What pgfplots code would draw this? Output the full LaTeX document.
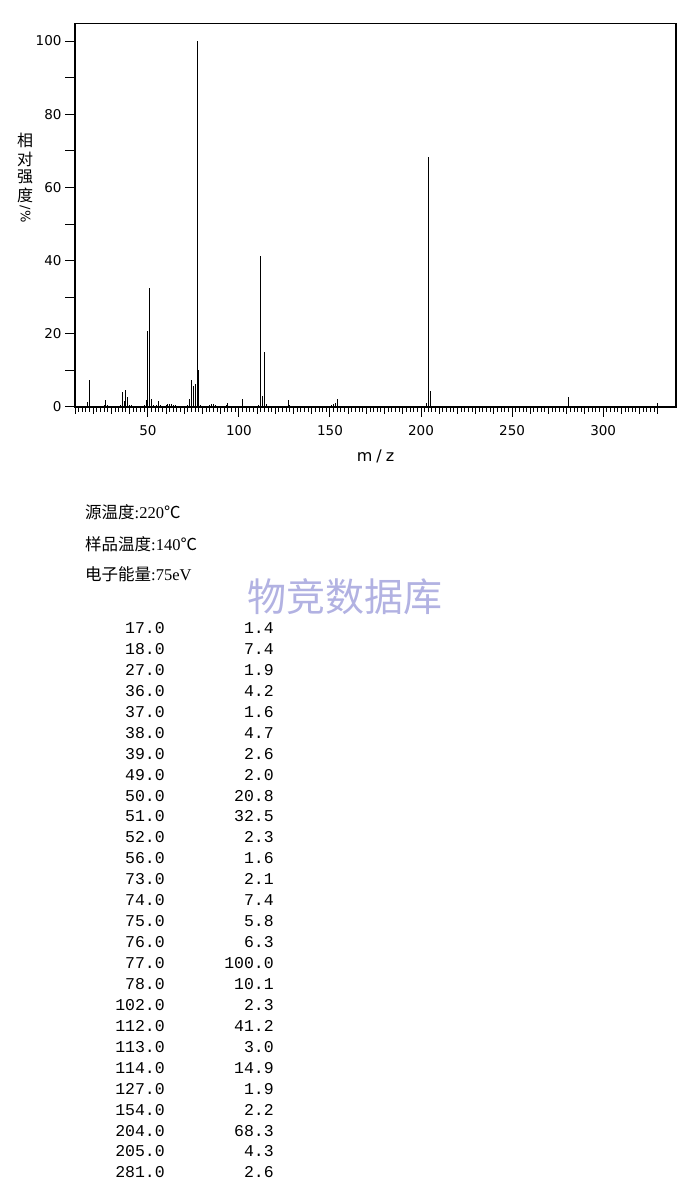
\documentclass[border=0pt]{standalone}
\usepackage{pgfplots}
\pgfplotsset{compat=1.18}
\usepackage{pgfplotstable}
\usepackage{fontspec}
\setmainfont{DejaVu Sans}
\newfontfamily\cjk{Noto Sans CJK SC}
\newfontfamily\mono{Liberation Mono}
\newfontfamily\serif{Liberation Serif}
\definecolor{wm}{RGB}{178,178,226}

\pgfplotstableread{
mz  int
17  1.4
18  7.4
26  0.6
27  1.9
28  0.5
35  0.6
36  4.2
37  1.6
38  4.7
39  2.6
40  0.5
41  0.5
48  0.5
49  2.0
50  20.8
51  32.5
52  2.3
53  0.5
55  0.5
56  1.6
57  0.5
60  0.6
61  0.7
62  0.7
63  0.7
64  0.6
65  0.5
66  0.4
72  0.5
73  2.1
74  7.4
75  5.8
76  6.3
77  100
78  10.1
79  0.5
82  0.4
83  0.4
84  0.5
85  0.7
86  0.7
87  0.6
88  0.4
93  0.5
94  1.0
97  0.4
102 2.3
103 0.4
111 0.6
112 41.2
113 3.0
114 14.9
115 0.8
127 1.9
128 0.5
151 0.5
152 0.7
153 1.0
154 2.2
155 0.3
203 1.0
204 68.3
205 4.3
206 0.3
281 2.6
282 0.4
330 1.0
}\spectrum

\begin{document}
\begin{tikzpicture}[x=1pt,y=1pt]
\path (0,0) rectangle (687,1191);
\begin{axis}[
  at={(75pt,784pt)}, anchor=south west,
  scale only axis, width=601pt, height=383.5pt,
  xmin=10, xmax=340, ymin=0, ymax=104.8,
  xtick={50,100,...,300},
  minor xtick={10,12,...,330},
  extra x ticks={10,20,...,330},
  extra x tick labels={},
  extra x tick style={major tick length=7pt},
  ytick={0,10,...,100},
  yticklabels={0,,20,,40,,60,,80,,100},
  tick align=outside,
  xtick pos=bottom, ytick pos=left,
  major tick length=10pt, minor tick length=5pt,
  tick style={black, line width=1pt},
  axis line style={line width=1.3pt},
  ticklabel style={font=\fontsize{13.5}{13.5}\selectfont},
  xticklabel shift=5pt,
  /pgf/number format/assume math mode=true,
]
\addplot[ycomb, black, line width=1pt, mark=none] table[x=mz, y=int] {\spectrum};
\end{axis}

% axis labels
\node[font=\fontsize{16}{16}\selectfont] at (375.5,734.3) {m\hspace{4pt}/\hspace{4pt}z};
\foreach \c [count=\i from 0] in {相,对,强,度} {
  \node[font=\fontsize{16}{16}\selectfont\cjk, inner sep=0] at (25,{1050.3-18.3*\i}) {\c};
}
\node[font=\fontsize{13}{13}\selectfont, rotate=-90, inner sep=0] at (25,976.7) {/\%};

% header
\node[anchor=base west, inner sep=0, font=\fontsize{16.5}{16.5}\selectfont] at (85,672.5) {\cjk 源温度\serif :220\cjk ℃};
\node[anchor=base west, inner sep=0, font=\fontsize{16.5}{16.5}\selectfont] at (85,640.7) {\cjk 样品温度\serif :140\cjk ℃};
\node[anchor=base west, inner sep=0, font=\fontsize{16.5}{16.5}\selectfont] at (85,610.7) {\cjk 电子能量\serif :75eV};

% watermark
\node[text=wm, font=\fontsize{39}{39}\selectfont\cjk, inner sep=0] at (344.5,594) {物竞数据库};

% peak table
\foreach \m/\v [count=\i from 0] in {17.0/1.4, 18.0/7.4, 27.0/1.9, 36.0/4.2, 37.0/1.6, 38.0/4.7, 39.0/2.6, 49.0/2.0, 50.0/20.8, 51.0/32.5, 52.0/2.3, 56.0/1.6, 73.0/2.1, 74.0/7.4, 75.0/5.8, 76.0/6.3, 77.0/100.0, 78.0/10.1, 102.0/2.3, 112.0/41.2, 113.0/3.0, 114.0/14.9, 127.0/1.9, 154.0/2.2, 204.0/68.3, 205.0/4.3, 281.0/2.6} {
  \node[anchor=base east, inner sep=0, font=\fontsize{16.5}{16.5}\selectfont\mono] at (165,{557.5-20.94*\i}) {\m};
  \node[anchor=base east, inner sep=0, font=\fontsize{16.5}{16.5}\selectfont\mono] at (274,{557.5-20.94*\i}) {\v};
}
\end{tikzpicture}
\end{document}
